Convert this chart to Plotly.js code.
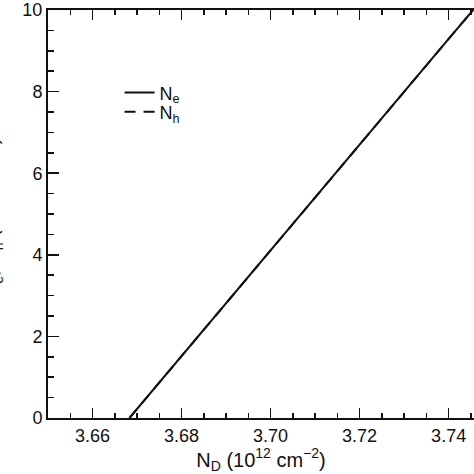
<!DOCTYPE html>
<html>
<head>
<meta charset="utf-8">
<script src="https://cdn.plot.ly/plotly-3.0.1.min.js"></script>
<style>html,body{margin:0;padding:0;overflow:hidden;background:#fff;}#chart{width:474px;height:474px;}</style>
</head>
<body>
<div id="chart"></div>
<script>
// N_D values (10^12 cm^-2)
const nD = [3.6683, 3.68, 3.69, 3.70, 3.71, 3.72, 3.73, 3.74, 3.7455];
// Electron density N_e
const nE = [0.0, 1.52, 2.81, 4.11, 5.40, 6.70, 7.99, 9.29, 10.0];
// Hole density N_h
const nH = [0.0, 1.52, 2.81, 4.11, 5.40, 6.70, 7.99, 9.29, 10.0];
const xTicks = [3.66, 3.68, 3.70, 3.72, 3.74];
const xTickText = ['3.66', '3.68', '3.70', '3.72', '3.74'];
const yTicks = [0, 2, 4, 6, 8, 10];

const font = {family: 'Liberation Sans, Arial, sans-serif', size: 18, color: '#111'};
const legFont = {family: 'Liberation Sans, Arial, sans-serif', size: 18, color: '#111'};

const traces = [
  {x: nD, y: nE, mode: 'lines', name: 'N<sub>e</sub>', legend: 'legend', line: {color: '#111', width: 2}},
  {x: nD, y: nH, mode: 'lines', name: 'N<sub>h</sub>', legend: 'legend2', line: {color: '#111', width: 2, dash: '11px,8px'}}
];

const layout = {
  width: 474, height: 474,
  margin: {l: 48, r: 0, t: 10, b: 56},
  paper_bgcolor: '#fff', plot_bgcolor: '#fff',
  font: font,
  showlegend: true,
  legend: {x: 0.168, y: 0.797, xanchor: 'left', yanchor: 'middle', bgcolor: 'rgba(0,0,0,0)',
           font: legFont, itemwidth: 30},
  legend2: {x: 0.168, y: 0.75, xanchor: 'left', yanchor: 'middle', bgcolor: 'rgba(0,0,0,0)',
           font: legFont, itemwidth: 30},
  xaxis: {
    range: [3.65, 3.7457], showgrid: false, zeroline: false,
    showline: true, linecolor: '#111', linewidth: 2, mirror: 'ticks',
    ticks: 'inside', ticklen: 10, tickwidth: 1.5, tickcolor: '#111',
    tickvals: xTicks, ticktext: xTickText,
    minor: {dtick: 0.005, tick0: 3.65, ticks: 'inside', ticklen: 5, tickwidth: 1.5, tickcolor: '#111'},
    tickfont: font,
    title: {text: 'N<sub>D</sub> (10<sup>12</sup> cm<sup>\u22122</sup>)', font: {family: font.family, size: 20, color: '#111'}, standoff: 4}
  },
  yaxis: {
    range: [0, 10], showgrid: false, zeroline: false,
    showline: true, linecolor: '#111', linewidth: 2,
    ticks: 'inside', ticklen: 11, tickwidth: 1.5, tickcolor: '#111',
    tickvals: yTicks,
    minor: {dtick: 0.5, tick0: 0, ticks: 'inside', ticklen: 6, tickwidth: 1.5, tickcolor: '#111'},
    tickfont: font
  },
  annotations: [{
    xref: 'paper', yref: 'paper', x: 0, y: 0.49, xanchor: 'center', yanchor: 'middle',
    xshift: -57, textangle: -90, showarrow: false,
    text: 'N<sub>e</sub>, N<sub>h</sub> (10<sup>12</sup> cm<sup>\u22122</sup>)',
    font: {family: font.family, size: 20, color: '#111'}
  }]
};

Plotly.newPlot('chart', traces, layout, {displayModeBar: false, staticPlot: true});
</script>
</body>
</html>
